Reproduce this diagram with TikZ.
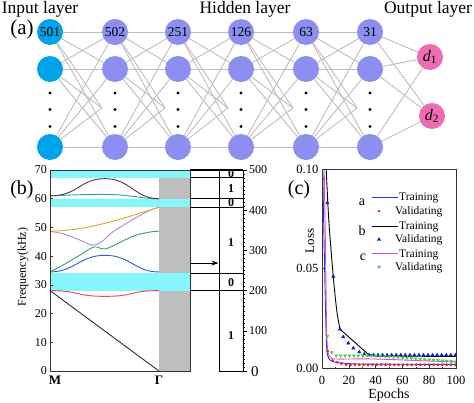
\documentclass[tikz,border=0pt]{standalone}
\usepackage{fontspec}
\setmainfont{Liberation Serif}
\usetikzlibrary{backgrounds,arrows.meta,plotmarks}
\definecolor{inpc}{RGB}{0,162,232}
\definecolor{hidc}{RGB}{140,142,240}
\definecolor{outc}{RGB}{238,108,178}
\definecolor{connc}{RGB}{190,190,190}
\definecolor{bandc}{RGB}{135,246,250}
\definecolor{grayband}{RGB}{190,190,190}
\definecolor{cblack}{RGB}{50,45,50}
\definecolor{cred}{RGB}{225,70,90}
\definecolor{cblue}{RGB}{50,90,210}
\definecolor{cgreen}{RGB}{50,160,110}
\definecolor{cpurp}{RGB}{180,130,220}
\definecolor{cyell}{RGB}{225,165,40}
\definecolor{cteal}{RGB}{30,170,160}
\definecolor{cbrown}{RGB}{100,50,70}
\definecolor{lblue}{RGB}{30,60,220}
\definecolor{lred}{RGB}{225,30,50}
\definecolor{ltri}{RGB}{20,30,190}
\definecolor{lpink}{RGB}{225,70,225}
\definecolor{lgreen}{RGB}{60,210,70}
\begin{document}
\begin{tikzpicture}[x=1pt,y=-1pt,
  neuron/.style={circle,minimum size=26pt,inner sep=0pt,font=\fontsize{13.5}{14}\selectfont},
  dotn/.style={circle,fill=black,minimum size=3.2pt,inner sep=0pt},
  conn/.style={draw=connc,line width=0.9pt},
  ttl/.style={font=\fontsize{17.5}{18}\selectfont,anchor=base,inner sep=0pt},
  plab/.style={font=\fontsize{21}{21}\selectfont,anchor=base,inner sep=0pt},
  tlab/.style={font=\fontsize{12}{12}\selectfont,inner sep=0pt},
  xlab/.style={font=\fontsize{12.5}{13}\selectfont,inner sep=0pt},
  boxnum/.style={font=\bfseries\fontsize{12}{12}\selectfont,inner sep=0pt},
  boxframe/.style={draw=black!80,line width=0.7pt},
  bandline/.style={line width=0.9pt},
  leg/.style={font=\fontsize{11.5}{12}\selectfont,anchor=west,inner sep=0pt},
  legl/.style={font=\fontsize{14}{14}\selectfont,inner sep=0pt}]
\path[use as bounding box] (0,0) rectangle (474,402);
% ---------- (a) network ----------
\node[ttl] (tin) at (40,13.5) {Input layer};
\node[ttl] (thid) at (245,13.5) {Hidden layer};
\node[ttl] (tout) at (428,13.5) {Output layer};
\node[plab] (pa) at (22,34) {(a)};
\foreach \i/\x/\lab/\col in {0/50/501/inpc,1/115/502/hidc,2/178/251/hidc,3/241/126/hidc,4/306/63/hidc,5/370/31/hidc}{
  \node[neuron,fill=\col] (n\i-t) at (\x,32) {\lab};
  \node[neuron,fill=\col] (n\i-s) at (\x,69) {};
  \node[neuron,fill=\col] (n\i-b) at (\x,147) {};
  \node[dotn] (n\i-d1) at (\x,93) {};
  \node[dotn] (n\i-d2) at (\x,109.5) {};
  \node[dotn] (n\i-d3) at (\x,126.5) {};
  \coordinate (n\i-m) at (\x-13,108);
}
\node[neuron,fill=outc,font=\fontsize{16}{16}\selectfont] (o1) at (430,57) {{\itshape d}\textsubscript{1}};
\node[neuron,fill=outc,font=\fontsize{16}{16}\selectfont] (o2) at (432,116) {{\itshape d}\textsubscript{2}};
\begin{scope}[on background layer]
  \fill[white] (0,0) rectangle (474,402);
  \foreach \i/\j in {0/1,1/2,2/3,3/4,4/5}{
    \foreach \a in {t,s,b}{
      \foreach \b in {t,s,b,m}{\draw[conn] (n\i-\a) -- (n\j-\b);}
    }
  }
  \foreach \a in {t,s,b}{\draw[conn] (n5-\a) -- (o1); \draw[conn] (n5-\a) -- (o2);}
\end{scope}
% ---------- (b) band structure ----------
\begin{scope}[shift={(50,371)},x=1pt,y=2.871pt]
  \fill[grayband] (109,0) rectangle (140,70);
  \fill[bandc] (0,28) rectangle (140,34);
  \fill[bandc] (0,57) rectangle (140,60);
  \fill[bandc] (0,67.3) rectangle (140,70);
  \draw[bandline,cblack] (0,28) -- (109,0);
  \draw[bandline,cred] (0,28) .. controls (30,28) and (25,26) .. (55,26) .. controls (85,26) and (79,28) .. (109,28);
  \draw[bandline,cblue] (0,34.5) .. controls (25,34.6) and (30,40.3) .. (55,40.3) .. controls (80,40.3) and (85,34.5) .. (109,34.5);
  \draw[bandline,cgreen] plot[smooth,tension=0.55] coordinates {(0,34.5) (15,37.3) (30,40.4) (44,43.2) (55,42.5) (70,44.8) (85,47.2) (100,48.4) (109,48.7)};
  \draw[bandline,cpurp] plot[smooth,tension=0.55] coordinates {(0,48.7) (15,47.6) (30,45.6) (43,43.8) (53,45.4) (63,48.5) (83,52.8) (100,56) (109,57)};
  \draw[bandline,cyell] (0,48.7) .. controls (40,48.9) and (75,53.5) .. (109,57);
  \draw[bandline,cteal] (0,61) .. controls (30,61.4) and (30,61.5) .. (55,61.5) .. controls (80,61.5) and (90,60) .. (109,60);
  \draw[bandline,cbrown] (0,61) .. controls (28,61) and (30,67) .. (55,67) .. controls (80,67) and (85,60) .. (109,60);
  \draw[boxframe] (0,0) rectangle (140,70);
  \foreach \k in {0,10,...,70}{
    \draw[black!80,line width=0.6pt] (0,\k) -- ++(3pt,0);
    \node[tlab,anchor=east] (fl\k) at (-3,\k) {\k};
  }
  \node[font=\bfseries\fontsize{13}{13}\selectfont,inner sep=0pt] (lM) at (5,-3.1) {M};
  \node[font=\bfseries\fontsize{13}{13}\selectfont,inner sep=0pt] (lG) at (109,-3.1) {Γ};
  \node[tlab,rotate=90] (fq) at (-27,36.2) {Frequency(kHz)};
  \node[plab,font=\fontsize{20}{20}\selectfont] (pb) at (-28,61.5) {(b)};
  \foreach \k in {70,67.3,60,57,34,28}{\draw[line width=1.1pt] (140,\k) -- (193,\k);}
  \draw[line width=0.7pt] (169,0) rectangle (193,70);
  \coordinate (arS) at (140,37.6);
  \coordinate (arE) at (168.5,37.6);
  \draw[line width=1.1pt,-{Stealth[length=7pt,width=5pt]}] (arS) -- (arE);
  \foreach \v in {0,10,...,500}{\draw[line width=0.4pt] (193,\v*0.14) -- ++(2pt,0);}
  \foreach \v in {100,200,...,500}{
    \draw[line width=0.6pt] (193,\v*0.14) -- ++(4pt,0);
    \node[tlab,anchor=west] (r\v) at (199,\v*0.14) {\v};
  }
  \draw[line width=0.6pt] (193,0) -- ++(4pt,0);
  \node[font=\fontsize{15}{15}\selectfont,inner sep=0pt,anchor=west] (r0) at (201,-0.3) {0};
  \node[boxnum] (bn1) at (181,68.6) {0};
  \node[boxnum] (bn2) at (181,63.7) {1};
  \node[boxnum] (bn3) at (181,58.5) {0};
  \node[boxnum] (bn4) at (181,44.9) {1};
  \node[boxnum] (bn5) at (181,30.7) {0};
  \node[boxnum] (bn6) at (181,12.2) {1};
\end{scope}
% ---------- (c) loss ----------
\begin{scope}[shift={(322,368)},x=1.34pt,y=19.9pt]
  \begin{scope}
    \clip (0,0) rectangle (100,10);
    \draw[lblue,line width=0.9pt] plot[smooth,tension=0.5] coordinates {(0.4,10.5) (1.5,6.5) (2.6,3) (3.5,1.0) (5,0.5) (8,0.33) (15,0.25) (30,0.2) (100,0.18)};
    \draw[lpink,line width=0.9pt] plot[smooth,tension=0.5] coordinates {(1.5,10.5) (2.6,6) (3.5,1.8) (4.7,0.75) (7,0.5) (12,0.45) (40,0.45) (100,0.3)};
    \draw[black,line width=0.9pt] plot[smooth,tension=0.5] coordinates {(2.8,10.5) (5,7.5) (8.4,4.6) (11,2.9) (13.4,1.95)} -- (34,0.72) -- (40,0.6) -- (100,0.58);
    \path plot[only marks,mark=*,mark size=1.2pt,mark options={fill=lred,draw=lred}] coordinates {(0.5,9.5) (4.2,0.85) (7.8,0.38) (11.2,0.3) (14.6,0.22)};
    \path plot[only marks,mark=*,mark size=1.2pt,mark options={fill=lred,draw=lred},domain=18:99.6,samples=26] (\x,0.16);
    \path plot[only marks,mark=triangle*,mark size=1.9pt,mark options={fill=ltri,draw=ltri}] coordinates {(4,8.3) (8.4,4.6) (13.4,1.95) (15.8,1.56) (19.6,1.25) (23.4,1.0) (27.8,0.8) (31.5,0.7)};
    \path plot[only marks,mark=triangle*,mark size=1.9pt,mark options={fill=ltri,draw=ltri},domain=35:99.5,samples=20] (\x,0.65);
    \path plot[only marks,mark=triangle*,mark size=1.7pt,mark options={fill=lgreen,draw=lgreen,rotate=180}] coordinates {(4,1.6) (7.3,0.78)};
    \path plot[only marks,mark=triangle*,mark size=1.7pt,mark options={fill=lgreen,draw=lgreen,rotate=180},domain=10.6:99.7,samples=28] (\x,{\x<40 ? 0.62 : 0.62-(\x-40)*0.005});
  \end{scope}
  \draw[boxframe] (0,0) rectangle (100,10);
  \foreach \e in {0,20,...,100}{
    \draw[black!80,line width=0.6pt] (\e,0) -- ++(0,3pt);
    \node[xlab,anchor=base] (ex\e) at ([yshift=-16.5pt]\e,0) {\e};
  }
  \foreach \e in {10,30,...,90}{\draw[black!80,line width=0.5pt] (\e,0) -- ++(0,1.5pt);}
  \foreach \l/\t in {0/0.00,5/0.05,10/0.10}{
    \draw[black!80,line width=0.6pt] (0,\l) -- ++(3pt,0);
    \node[xlab,anchor=east] (ly\l) at ([xshift=-3.5pt]0,\l) {\t};
  }
  \node[font=\fontsize{14}{14}\selectfont,anchor=base,inner sep=0pt] (xep) at ([yshift=-30.5pt]50,0) {Epochs};
  \node[font=\fontsize{13}{13}\selectfont,rotate=90,inner sep=0pt] (yl) at (-9,6.38) {Loss};
\end{scope}
\node[plab,font=\fontsize{20}{20}\selectfont] (pc) at (299,194) {(c)};
% legend
\node[legl] (la) at (362,202) {a};
\coordinate (la1) at (372,197); \coordinate (la2) at (398,197);
\draw[lblue,line width=0.9pt] (la1) -- (la2);
\node[leg] (lat) at (399,198) {Training};
\fill[lred] (379,211) circle (1.3pt);
\node[leg] (lav) at (395,212) {Validating};
\node[legl] (lb) at (362,231) {b};
\coordinate (lb1) at (372,226); \coordinate (lb2) at (398,226);
\draw[black,line width=0.9pt] (lb1) -- (lb2);
\node[leg] (lbt) at (399,227) {Training};
\path plot[only marks,mark=triangle*,mark size=1.9pt,mark options={fill=ltri,draw=ltri}] coordinates {(379,239.5)};
\node[leg] (lbv) at (395,240) {Validating};
\node[legl] (lc) at (363,257) {c};
\coordinate (lc1) at (372,253); \coordinate (lc2) at (398,253);
\draw[lpink,line width=0.9pt] (lc1) -- (lc2);
\node[leg] (lct) at (399,255) {Training};
\path plot[only marks,mark=triangle*,mark size=1.7pt,mark options={fill=lgreen,draw=lgreen,rotate=180}] coordinates {(379,267)};
\node[leg] (lcv) at (395,268) {Validating};
\end{tikzpicture}
\end{document}
